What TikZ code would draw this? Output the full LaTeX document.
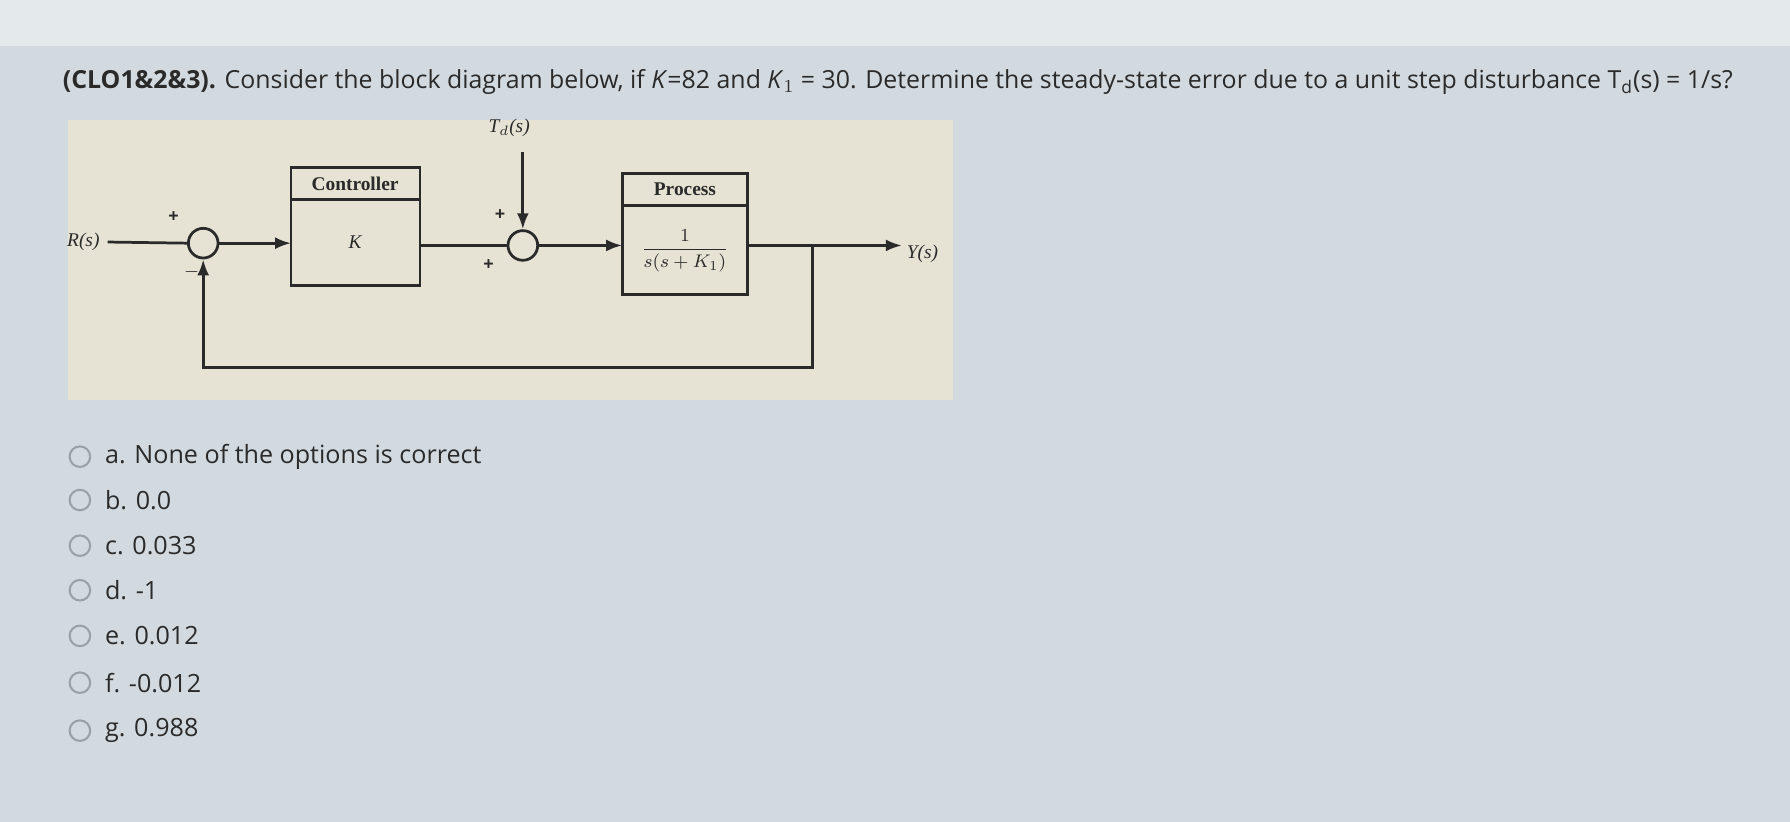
\documentclass[tikz,border=0pt]{standalone}
\usepackage{fontspec}
\setmainfont{Open Sans}
\newfontfamily\serifd{Liberation Serif}
\usetikzlibrary{arrows.meta}
\definecolor{bg}{HTML}{D3DADF}
\definecolor{panel}{HTML}{E7E3D4}
\definecolor{ink}{HTML}{2A2A2A}
\definecolor{radio}{HTML}{9AA0A4}
\tikzset{
  blk/.style={draw=ink,line width=1.2pt},
  sig/.style={draw=ink,line width=1.2pt,-{Latex[length=7pt]}},
  ln/.style={draw=ink,line width=1.2pt},
  sumc/.style={circle,draw=ink,line width=1.2pt,minimum size=26*0.5pt,inner sep=0pt,fill=panel},
  dl/.style={font=\serifd\itshape\fontsize{8.5}{9}\selectfont,text=ink},
  sgn/.style={font=\fontsize{8}{8}\selectfont\bfseries,text=ink},
  opt/.style={anchor=west,font=\fontsize{11}{12}\selectfont,text=ink},
  rad/.style={circle,draw=radio,line width=0.9pt,minimum size=18*0.5pt,inner sep=0pt}
}
\begin{document}
\begin{tikzpicture}[x=0.5pt,y=-0.5pt]
\useasboundingbox (0,0) rectangle (1568,720);
\fill[bg] (0,0) rectangle (1568,720);
\fill[bg!60!white] (0,0) rectangle (1568,40);
\fill[panel] (60,105) rectangle (835,350);
\node[anchor=west,font=\fontsize{10.9}{12}\selectfont,text=ink] (title) at (48,72) {\textbf{(CLO1\&2\&3).} Consider the block diagram below, if \textit{K}=82 and \textit{K}$_1$ = 30. Determine the steady-state error due to a unit step disturbance T$_\mathrm{d}$(s) = 1/s?};
% blocks
\draw[blk,fill=panel] (255,147) rectangle (368,250);
\draw[blk] (255,175) -- (368,175);
\node[font=\serifd\bfseries\fontsize{8.5}{9}\selectfont,text=ink] (ch) at (311,161) {Controller};
\node[dl] (ctrl) at (311,212) {K};
\coordinate (cl) at (255,213); \coordinate (cr) at (368,215);
\draw[blk,fill=panel] (545,152) rectangle (655,258);
\draw[blk] (545,180) -- (655,180);
\node[font=\serifd\bfseries\fontsize{8.5}{9}\selectfont,text=ink] (ph) at (600,166) {Process};
\node[font=\serifd\fontsize{8}{8}\selectfont,text=ink] (proc) at (600,220) {$\displaystyle\frac{1}{s(s+K_1)}$};
\coordinate (pl) at (545,215); \coordinate (pr) at (655,215);
% sums
\node[sumc] (s1) at (178,213) {};
\node[sumc] (s2) at (458,215) {};
\node[dl] (R) at (73,212) {R(s)};
\node[dl] (Y) at (808,222) {Y(s)};
\node[dl] (Td) at (446,112) {T$_d$(s)};
\coordinate (tdtop) at (458,133);
\draw[ln] (R.east) -- (s1.west);
\draw[sig] (s1.east) -- (cl);
\draw[ln] (cr) -- (s2.west);
\draw[sig] (s2.east) -- (pl);
\draw[sig] (tdtop) -- (s2.north);
\coordinate (yend) at (790,215);
\coordinate (fb1) at (712,215); \coordinate (fb2) at (712,322); \coordinate (fb3) at (178,322);
\draw[sig] (pr) -- (yend);
\draw[sig] (fb1) -- (fb2) -- (fb3) -- (s1.south);
\node[sgn] (p1) at (152,190) {+};
\node[sgn] (m1) at (168,238) {$-$};
\node[sgn] (p2) at (438,188) {+};
\node[sgn] (p3) at (428,232) {+};
% options
\foreach \y/\t [count=\i] in {400/a. None of the options is correct,438/b. 0.0,478/c. 0.033,517/d. -1,557/e. 0.012,598/f. -0.012,640/g. 0.988}{
  \node[rad] (r\i) at (70,\y) {};
  \node[opt] (o\i) at (85,\y) {\t};
}
\end{tikzpicture}
\end{document}
